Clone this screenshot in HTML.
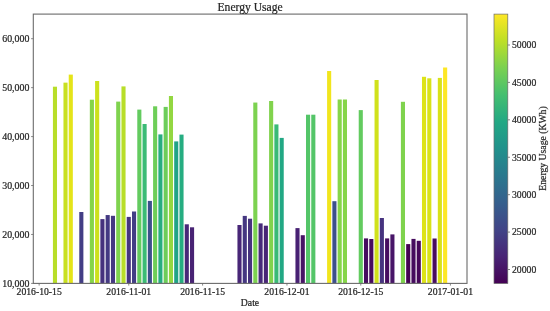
<!DOCTYPE html><html><head><meta charset="utf-8"><style>html,body{margin:0;padding:0;background:#fff;width:550px;height:311px;overflow:hidden}svg{display:block}text{font-family:"Liberation Serif", "Times New Roman", serif;fill:#262626;stroke:#262626;stroke-width:0.22px}</style></head><body>
<svg width="550" height="311" viewBox="0 0 550 311">
<defs><linearGradient id="cb" x1="0" y1="1" x2="0" y2="0">
<stop offset="0.00" stop-color="#440154"/>
<stop offset="0.10" stop-color="#482475"/>
<stop offset="0.20" stop-color="#414487"/>
<stop offset="0.30" stop-color="#355f8d"/>
<stop offset="0.40" stop-color="#2a788e"/>
<stop offset="0.50" stop-color="#21918c"/>
<stop offset="0.60" stop-color="#22a884"/>
<stop offset="0.70" stop-color="#44bf70"/>
<stop offset="0.80" stop-color="#7ad151"/>
<stop offset="0.90" stop-color="#bddf26"/>
<stop offset="1.00" stop-color="#fde725"/>
</linearGradient></defs>
<rect x="52.92" y="86.70" width="4.10" height="196.70" fill="#b8de29"/>
<rect x="63.46" y="82.65" width="4.10" height="200.75" fill="#c8e020"/>
<rect x="68.73" y="74.60" width="4.10" height="208.80" fill="#e5e419"/>
<rect x="79.28" y="212.00" width="4.10" height="71.40" fill="#433e85"/>
<rect x="89.83" y="99.70" width="4.10" height="183.70" fill="#86d549"/>
<rect x="95.10" y="81.00" width="4.10" height="202.40" fill="#cde11d"/>
<rect x="100.37" y="219.10" width="4.10" height="64.30" fill="#46327e"/>
<rect x="105.64" y="215.05" width="4.10" height="68.35" fill="#443983"/>
<rect x="110.92" y="215.80" width="4.10" height="67.60" fill="#453882"/>
<rect x="116.19" y="101.60" width="4.10" height="181.80" fill="#7fd34e"/>
<rect x="121.46" y="86.40" width="4.10" height="197.00" fill="#b8de29"/>
<rect x="126.73" y="216.90" width="4.10" height="66.50" fill="#453581"/>
<rect x="132.00" y="211.50" width="4.10" height="71.90" fill="#423f85"/>
<rect x="137.28" y="109.60" width="4.10" height="173.80" fill="#63cb5f"/>
<rect x="142.55" y="124.00" width="4.10" height="159.40" fill="#3bbb75"/>
<rect x="147.82" y="200.90" width="4.10" height="82.50" fill="#3c508b"/>
<rect x="153.09" y="106.30" width="4.10" height="177.10" fill="#6ece58"/>
<rect x="158.37" y="134.40" width="4.10" height="149.00" fill="#27ad81"/>
<rect x="163.64" y="106.90" width="4.10" height="176.50" fill="#6ccd5a"/>
<rect x="168.91" y="96.00" width="4.10" height="187.40" fill="#93d741"/>
<rect x="174.19" y="141.40" width="4.10" height="142.00" fill="#20a386"/>
<rect x="179.46" y="134.60" width="4.10" height="148.80" fill="#26ad81"/>
<rect x="184.73" y="224.30" width="4.10" height="59.10" fill="#482878"/>
<rect x="190.00" y="227.30" width="4.10" height="56.10" fill="#482374"/>
<rect x="237.45" y="225.00" width="4.10" height="58.40" fill="#482677"/>
<rect x="242.73" y="215.90" width="4.10" height="67.50" fill="#453781"/>
<rect x="248.00" y="218.70" width="4.10" height="64.70" fill="#46327e"/>
<rect x="253.27" y="102.55" width="4.10" height="180.85" fill="#7cd250"/>
<rect x="258.54" y="223.40" width="4.10" height="60.00" fill="#472a7a"/>
<rect x="263.82" y="225.70" width="4.10" height="57.70" fill="#482576"/>
<rect x="269.09" y="101.00" width="4.10" height="182.40" fill="#81d34d"/>
<rect x="274.36" y="124.40" width="4.10" height="159.00" fill="#3aba76"/>
<rect x="279.63" y="137.90" width="4.10" height="145.50" fill="#22a884"/>
<rect x="295.45" y="228.10" width="4.10" height="55.30" fill="#482173"/>
<rect x="300.72" y="235.20" width="4.10" height="48.20" fill="#471365"/>
<rect x="306.00" y="114.70" width="4.10" height="168.70" fill="#54c568"/>
<rect x="311.27" y="114.70" width="4.10" height="168.70" fill="#54c568"/>
<rect x="327.09" y="71.00" width="4.10" height="212.40" fill="#f1e51d"/>
<rect x="332.36" y="201.20" width="4.10" height="82.20" fill="#3c508b"/>
<rect x="337.63" y="99.50" width="4.10" height="183.90" fill="#86d549"/>
<rect x="342.90" y="99.50" width="4.10" height="183.90" fill="#86d549"/>
<rect x="358.72" y="110.10" width="4.10" height="173.30" fill="#63cb5f"/>
<rect x="363.99" y="238.40" width="4.10" height="45.00" fill="#470d60"/>
<rect x="369.27" y="239.00" width="4.10" height="44.40" fill="#460b5e"/>
<rect x="374.54" y="80.00" width="4.10" height="203.40" fill="#d0e11c"/>
<rect x="379.81" y="218.00" width="4.10" height="65.40" fill="#46337f"/>
<rect x="385.08" y="238.40" width="4.10" height="45.00" fill="#470d60"/>
<rect x="390.36" y="234.40" width="4.10" height="49.00" fill="#481668"/>
<rect x="400.90" y="101.80" width="4.10" height="181.60" fill="#7fd34e"/>
<rect x="406.17" y="244.10" width="4.10" height="39.30" fill="#440154"/>
<rect x="411.45" y="238.90" width="4.10" height="44.50" fill="#460b5e"/>
<rect x="416.72" y="240.80" width="4.10" height="42.60" fill="#46075a"/>
<rect x="421.99" y="76.80" width="4.10" height="206.60" fill="#dde318"/>
<rect x="427.26" y="78.30" width="4.10" height="205.10" fill="#d8e219"/>
<rect x="432.54" y="238.50" width="4.10" height="44.90" fill="#470d60"/>
<rect x="437.81" y="77.90" width="4.10" height="205.50" fill="#d8e219"/>
<rect x="443.08" y="67.50" width="4.10" height="215.90" fill="#fde725"/>
<rect x="33.30" y="14.10" width="433.70" height="269.30" fill="none" stroke="#6b6b6b" stroke-width="1.1"/>
<line x1="31.10" x2="33.30" y1="283.40" y2="283.40" stroke="#6b6b6b" stroke-width="0.8"/>
<text x="29.40" y="287.00" font-size="9.9" text-anchor="end">10,000</text>
<line x1="31.10" x2="33.30" y1="234.46" y2="234.46" stroke="#6b6b6b" stroke-width="0.8"/>
<text x="29.40" y="238.06" font-size="9.9" text-anchor="end">20,000</text>
<line x1="31.10" x2="33.30" y1="185.52" y2="185.52" stroke="#6b6b6b" stroke-width="0.8"/>
<text x="29.40" y="189.12" font-size="9.9" text-anchor="end">30,000</text>
<line x1="31.10" x2="33.30" y1="136.58" y2="136.58" stroke="#6b6b6b" stroke-width="0.8"/>
<text x="29.40" y="140.18" font-size="9.9" text-anchor="end">40,000</text>
<line x1="31.10" x2="33.30" y1="87.64" y2="87.64" stroke="#6b6b6b" stroke-width="0.8"/>
<text x="29.40" y="91.24" font-size="9.9" text-anchor="end">50,000</text>
<line x1="31.10" x2="33.30" y1="38.70" y2="38.70" stroke="#6b6b6b" stroke-width="0.8"/>
<text x="29.40" y="42.30" font-size="9.9" text-anchor="end">60,000</text>
<line x1="39.15" x2="39.15" y1="283.40" y2="285.60" stroke="#6b6b6b" stroke-width="0.8"/>
<text x="39.15" y="295.40" font-size="9.7" text-anchor="middle">2016-10-15</text>
<line x1="128.78" x2="128.78" y1="283.40" y2="285.60" stroke="#6b6b6b" stroke-width="0.8"/>
<text x="128.78" y="295.40" font-size="9.7" text-anchor="middle">2016-11-01</text>
<line x1="202.60" x2="202.60" y1="283.40" y2="285.60" stroke="#6b6b6b" stroke-width="0.8"/>
<text x="202.60" y="295.40" font-size="9.7" text-anchor="middle">2016-11-15</text>
<line x1="286.96" x2="286.96" y1="283.40" y2="285.60" stroke="#6b6b6b" stroke-width="0.8"/>
<text x="286.96" y="295.40" font-size="9.7" text-anchor="middle">2016-12-01</text>
<line x1="360.77" x2="360.77" y1="283.40" y2="285.60" stroke="#6b6b6b" stroke-width="0.8"/>
<text x="360.77" y="295.40" font-size="9.7" text-anchor="middle">2016-12-15</text>
<line x1="450.40" x2="450.40" y1="283.40" y2="285.60" stroke="#6b6b6b" stroke-width="0.8"/>
<text x="450.40" y="295.40" font-size="9.7" text-anchor="middle">2017-01-01</text>
<text x="250" y="306.3" font-size="9.7" text-anchor="middle">Date</text>
<text x="250.1" y="10.8" font-size="11.6" text-anchor="middle">Energy Usage</text>
<rect x="494.00" y="14.10" width="13.80" height="269.40" fill="url(#cb)" stroke="#6b6b6b" stroke-width="0.7"/>
<line x1="507.80" x2="510.00" y1="269.50" y2="269.50" stroke="#6b6b6b" stroke-width="0.8"/>
<text x="512.00" y="272.80" font-size="9.7">20000</text>
<line x1="507.80" x2="510.00" y1="232.08" y2="232.08" stroke="#6b6b6b" stroke-width="0.8"/>
<text x="512.00" y="235.38" font-size="9.7">25000</text>
<line x1="507.80" x2="510.00" y1="194.67" y2="194.67" stroke="#6b6b6b" stroke-width="0.8"/>
<text x="512.00" y="197.97" font-size="9.7">30000</text>
<line x1="507.80" x2="510.00" y1="157.25" y2="157.25" stroke="#6b6b6b" stroke-width="0.8"/>
<text x="512.00" y="160.55" font-size="9.7">35000</text>
<line x1="507.80" x2="510.00" y1="119.83" y2="119.83" stroke="#6b6b6b" stroke-width="0.8"/>
<text x="512.00" y="123.13" font-size="9.7">40000</text>
<line x1="507.80" x2="510.00" y1="82.42" y2="82.42" stroke="#6b6b6b" stroke-width="0.8"/>
<text x="512.00" y="85.72" font-size="9.7">45000</text>
<line x1="507.80" x2="510.00" y1="45.00" y2="45.00" stroke="#6b6b6b" stroke-width="0.8"/>
<text x="512.00" y="48.30" font-size="9.7">50000</text>
<text transform="translate(546.0,148.5) rotate(-90)" font-size="9.7" text-anchor="middle">Energy Usage (KWh)</text>
</svg></body></html>
